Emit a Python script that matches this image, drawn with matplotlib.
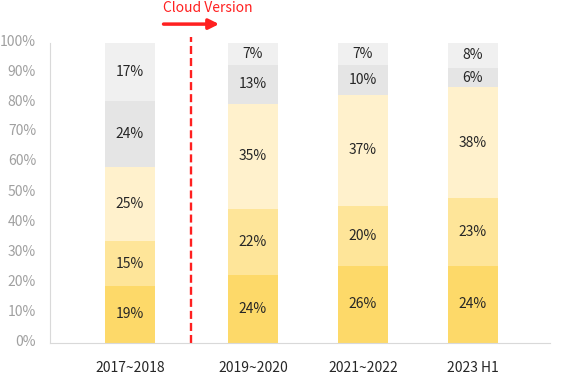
import matplotlib
matplotlib.use("Agg")

import matplotlib.pyplot as plt
import matplotlib.transforms as mtransforms
import numpy as np

plt.rcParams["font.family"] = ["Noto Sans CJK KR", "DejaVu Sans"]

periods = ["2017~2018", "2019~2020", "2021~2022", "2023 H1"]

# segment heights (%), bottom to top, as drawn in the picture
seg1 = [19.0, 22.8, 25.7, 25.7]
seg2 = [15.0, 21.9, 20.0, 22.6]
seg3 = [24.8, 35.0, 37.0, 37.0]
seg4 = [22.0, 13.0, 10.0, 6.4]
seg5 = [19.2, 7.3, 7.3, 8.3]

# printed labels
lab1 = ["19%", "24%", "26%", "24%"]
lab2 = ["15%", "22%", "20%", "23%"]
lab3 = ["25%", "35%", "37%", "38%"]
lab4 = ["24%", "13%", "10%", "6%"]
lab5 = ["17%", "7%", "7%", "8%"]

segments = [seg1, seg2, seg3, seg4, seg5]
labels = [lab1, lab2, lab3, lab4, lab5]
colors = ["#FDD969", "#FEE599", "#FFF1CC", "#E5E5E5", "#F0F0F0"]

x = np.array([0.0, 1.118, 2.118, 3.118])
width = 0.455

fig = plt.figure(figsize=(5.78, 3.8), dpi=100)
ax = fig.add_axes([50 / 578, 37 / 380, 500 / 578, 300 / 380])

bottom = np.zeros(len(periods))
for vals, labs, col in zip(segments, labels, colors):
    vals = np.array(vals) / 100.0
    ax.bar(x, vals, width=width, bottom=bottom, color=col, edgecolor="none")
    for xi, b, v, t in zip(x, bottom, vals, labs):
        ax.text(xi, b + v / 2, t, ha="center", va="center",
                fontsize=10, color="#262626")
    bottom = bottom + vals

ax.set_xlim(-0.727, 3.818)
ax.set_ylim(0, 1.0)
yt = np.arange(0, 1.01, 0.1)
ax.set_yticks(yt)
ax.set_yticklabels([f"{int(round(v * 100))}%" for v in yt])
ax.set_xticks(x)
ax.set_xticklabels(periods)
ax.tick_params(axis="y", length=0, pad=10, labelsize=10, labelcolor="#A0A0A0")
ax.tick_params(axis="x", length=0, pad=13, labelsize=10, labelcolor="#262626")

# y tick labels sit slightly above their gridline in the original
shift = mtransforms.ScaledTranslation(0, 3 / 100, fig.dpi_scale_trans)
for lbl in ax.get_yticklabels():
    lbl.set_transform(lbl.get_transform() + shift)

for side in ["top", "right"]:
    ax.spines[side].set_visible(False)
ax.spines["left"].set_color("#D9D9D9")
ax.spines["bottom"].set_color("#D9D9D9")

# cloud version divider
x_div = 0.555
ax.plot([x_div, x_div], [0, 1.02], color="#FF2020", lw=1.7,
        linestyle=(0, (3.4, 1.7)), clip_on=False)
ax.annotate("", xy=(0.81, 1.063), xytext=(0.305, 1.063),
            xycoords="data", annotation_clip=False,
            arrowprops=dict(arrowstyle="-|>,head_length=0.6,head_width=0.3",
                            color="#FF2020", lw=2.5, shrinkA=0, shrinkB=0))
ax.text(0.3, 1.115, "Cloud Version", ha="left", va="center",
        fontsize=10, color="#FF2020", clip_on=False)

plt.savefig("out.png", dpi=100)
plt.close()
